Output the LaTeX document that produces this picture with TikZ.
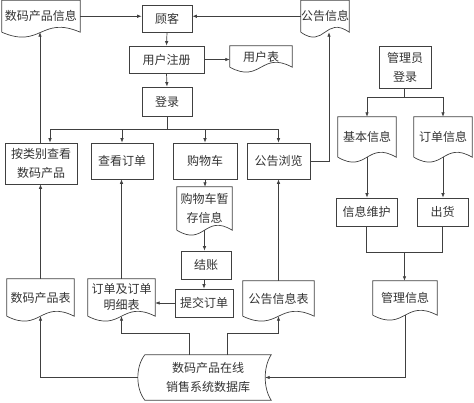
\documentclass[tikz,border=0pt]{standalone}
\usepackage{fontspec}
\setmainfont{Noto Sans CJK SC}
\usetikzlibrary{arrows.meta,calc}
\tikzset{
  ln/.style={draw=black!75, line width=0.7pt},
  arr/.style={ln, -{Latex[length=4.5pt,width=3.5pt]}},
  txt/.style={inner sep=0pt, align=center, text=black!80, font=\fontsize{12}{19}\selectfont},
  proc/.style={txt, draw=black!75, line width=0.7pt},
}
% process box: name, x0, y0, x1, y1, text
\newcommand\procbox[6]{%
  \node[proc, minimum width={#4-#2}, minimum height={#5-#3}] (#1) at ({(#2+#4)/2},{(#3+#5)/2}) {#6};}
% document shape: name, x0, y0, x1, b, text
\newcommand\docbox[6]{%
  \node[txt, minimum width={#4-#2}, minimum height={#5-#3}] (#1) at ({(#2+#4)/2},{(#3+#5)/2}) {#6};
  \draw[ln] (#1.south west) -- (#1.north west) -- (#1.north east) -- (#1.south east)
    .. controls ($(#1.south)+(0,-17)$) and ($(#1.south)+(0,17)$) .. (#1.south west);}
\begin{document}
\begin{tikzpicture}[x=1pt,y=-1pt]
\useasboundingbox (0,0) rectangle (474,403);
% top row
\docbox{dinfo}{2}{0.5}{80}{32}{数码产品信息}
\procbox{guke}{142}{5}{192}{32}{顾客}
\docbox{dgg}{301}{0.5}{349}{32}{公告信息}
\procbox{zhuce}{129}{46}{204}{73}{用户注册}
\docbox{dyh}{230}{46}{292}{67}{用户表}
\procbox{denglu}{142}{87}{192}{116}{登录}
% second row
\procbox{anlei}{5}{143}{77}{184}{按类别查看\\数码产品}
\procbox{chakan}{91}{143}{153}{179}{查看订单}
\procbox{gouwu}{173}{143}{237}{179}{购物车}
\procbox{ggll}{247}{143}{310}{179}{公告浏览}
\docbox{dzc}{177}{187}{232}{230}{购物车暂\\存信息}
\procbox{jiezhang}{181}{251}{231}{279}{结账}
\procbox{tijiao}{175}{289}{233}{317}{提交订单}
\docbox{dsm}{7}{279}{74}{316}{数码产品表}
\docbox{ddd}{88}{279}{155}{316}{订单及订单\\[-3pt]明细表}
\docbox{dggb}{243}{281}{314}{316}{公告信息表}
% admin side
\procbox{guanli}{379}{46}{431}{88}{管理员\\登录}
\docbox{djb}{338}{117}{396}{157}{基本信息}
\docbox{dddx}{414}{117}{472}{157}{订单信息}
\procbox{weihu}{336}{198}{397}{226}{信息维护}
\procbox{chuhuo}{417}{198}{468}{226}{出货}
\docbox{dglxx}{373}{281}{437}{315}{管理信息}
% database
\node[txt, minimum width=126, minimum height=45] (db) at (208,377.5) {数码产品在线\\销售系统数据库};
\draw[ln] (db.north west) -- (db.north east)
  .. controls ($(db.north east)+(-8,12)$) and ($(db.south east)+(-8,-12)$) .. (db.south east)
  -- (db.south west)
  .. controls ($(db.south west)+(-9.3,-12)$) and ($(db.north west)+(-9.3,12)$) .. (db.north west);
% connectors: top
\draw[arr] (dinfo.east) -- (dinfo.east -| guke.west);
\draw[arr] (dgg.west) -- (dgg.west -| guke.east);
\draw[arr] (guke.south) -- (zhuce.north);
\draw[arr] (zhuce.east) -- (zhuce.east -| dyh.west);
\draw[arr] (zhuce.south) -- (denglu.north);
\coordinate (bus) at ($(denglu.south)+(0,13)$);
\draw[ln] (denglu.south) -- (bus);
\draw[arr] (bus) -| ([xshift=9pt]anlei.north);
\draw[arr] (bus) -| (ggll.north);
\draw[arr] (chakan.north |- bus) -- (chakan.north);
\draw[arr] (gouwu.north |- bus) -- (gouwu.north);
\draw[arr] ([xshift=-1pt]anlei.north) -- ([xshift=-1pt]anlei.north |- dinfo.south);
\draw[arr] (ggll.east) -| ([xshift=4pt]dgg.south);
% shopping chain
\draw[arr] (gouwu.south) -- (gouwu.south |- dzc.north);
\draw[arr] (dzc.south) -- (dzc.south |- jiezhang.north);
\draw[arr] (jiezhang.south -| tijiao.north) -- (tijiao.north);
\draw[arr] (tijiao.west) -- (tijiao.west -| ddd.east);
% tables up to views
\draw[arr] (dsm.north) -- (dsm.north |- anlei.south);
\draw[arr] (ddd.north) -- (ddd.north |- chakan.south);
\draw[arr] (dggb.north) -- (dggb.north |- ggll.south);
% database to tables
\draw[arr] ([xshift=-7pt]db.west) -| (dsm.south);
\draw[arr] ($(db.north west)+(45,0)$) -- ++(0,-21) -| (ddd.south);
\draw[arr] ($(db.north west)+(83,0)$) -- ++(0,-21) -| (dggb.south);
% admin
\coordinate (bus2) at ($(guanli.south)+(-1,9)$);
\draw[ln] (guanli.south -| bus2) -- (bus2);
\draw[arr] (bus2) -| (djb.north);
\draw[arr] (bus2) -| (dddx.north);
\draw[arr] (djb.south) -- (djb.south |- weihu.north);
\draw[arr] (dddx.south) -- (dddx.south |- chuhuo.north);
\draw[ln] (weihu.south) -- ++(0,26) -| (chuhuo.south);
\coordinate (m2) at ($(weihu.south)!0.5!(chuhuo.south)+(0,26)$);
\draw[arr] (m2) -- (m2 |- dglxx.north);
\draw[arr] (dglxx.south) |- ([xshift=-6pt]db.east);
\end{tikzpicture}
\end{document}
